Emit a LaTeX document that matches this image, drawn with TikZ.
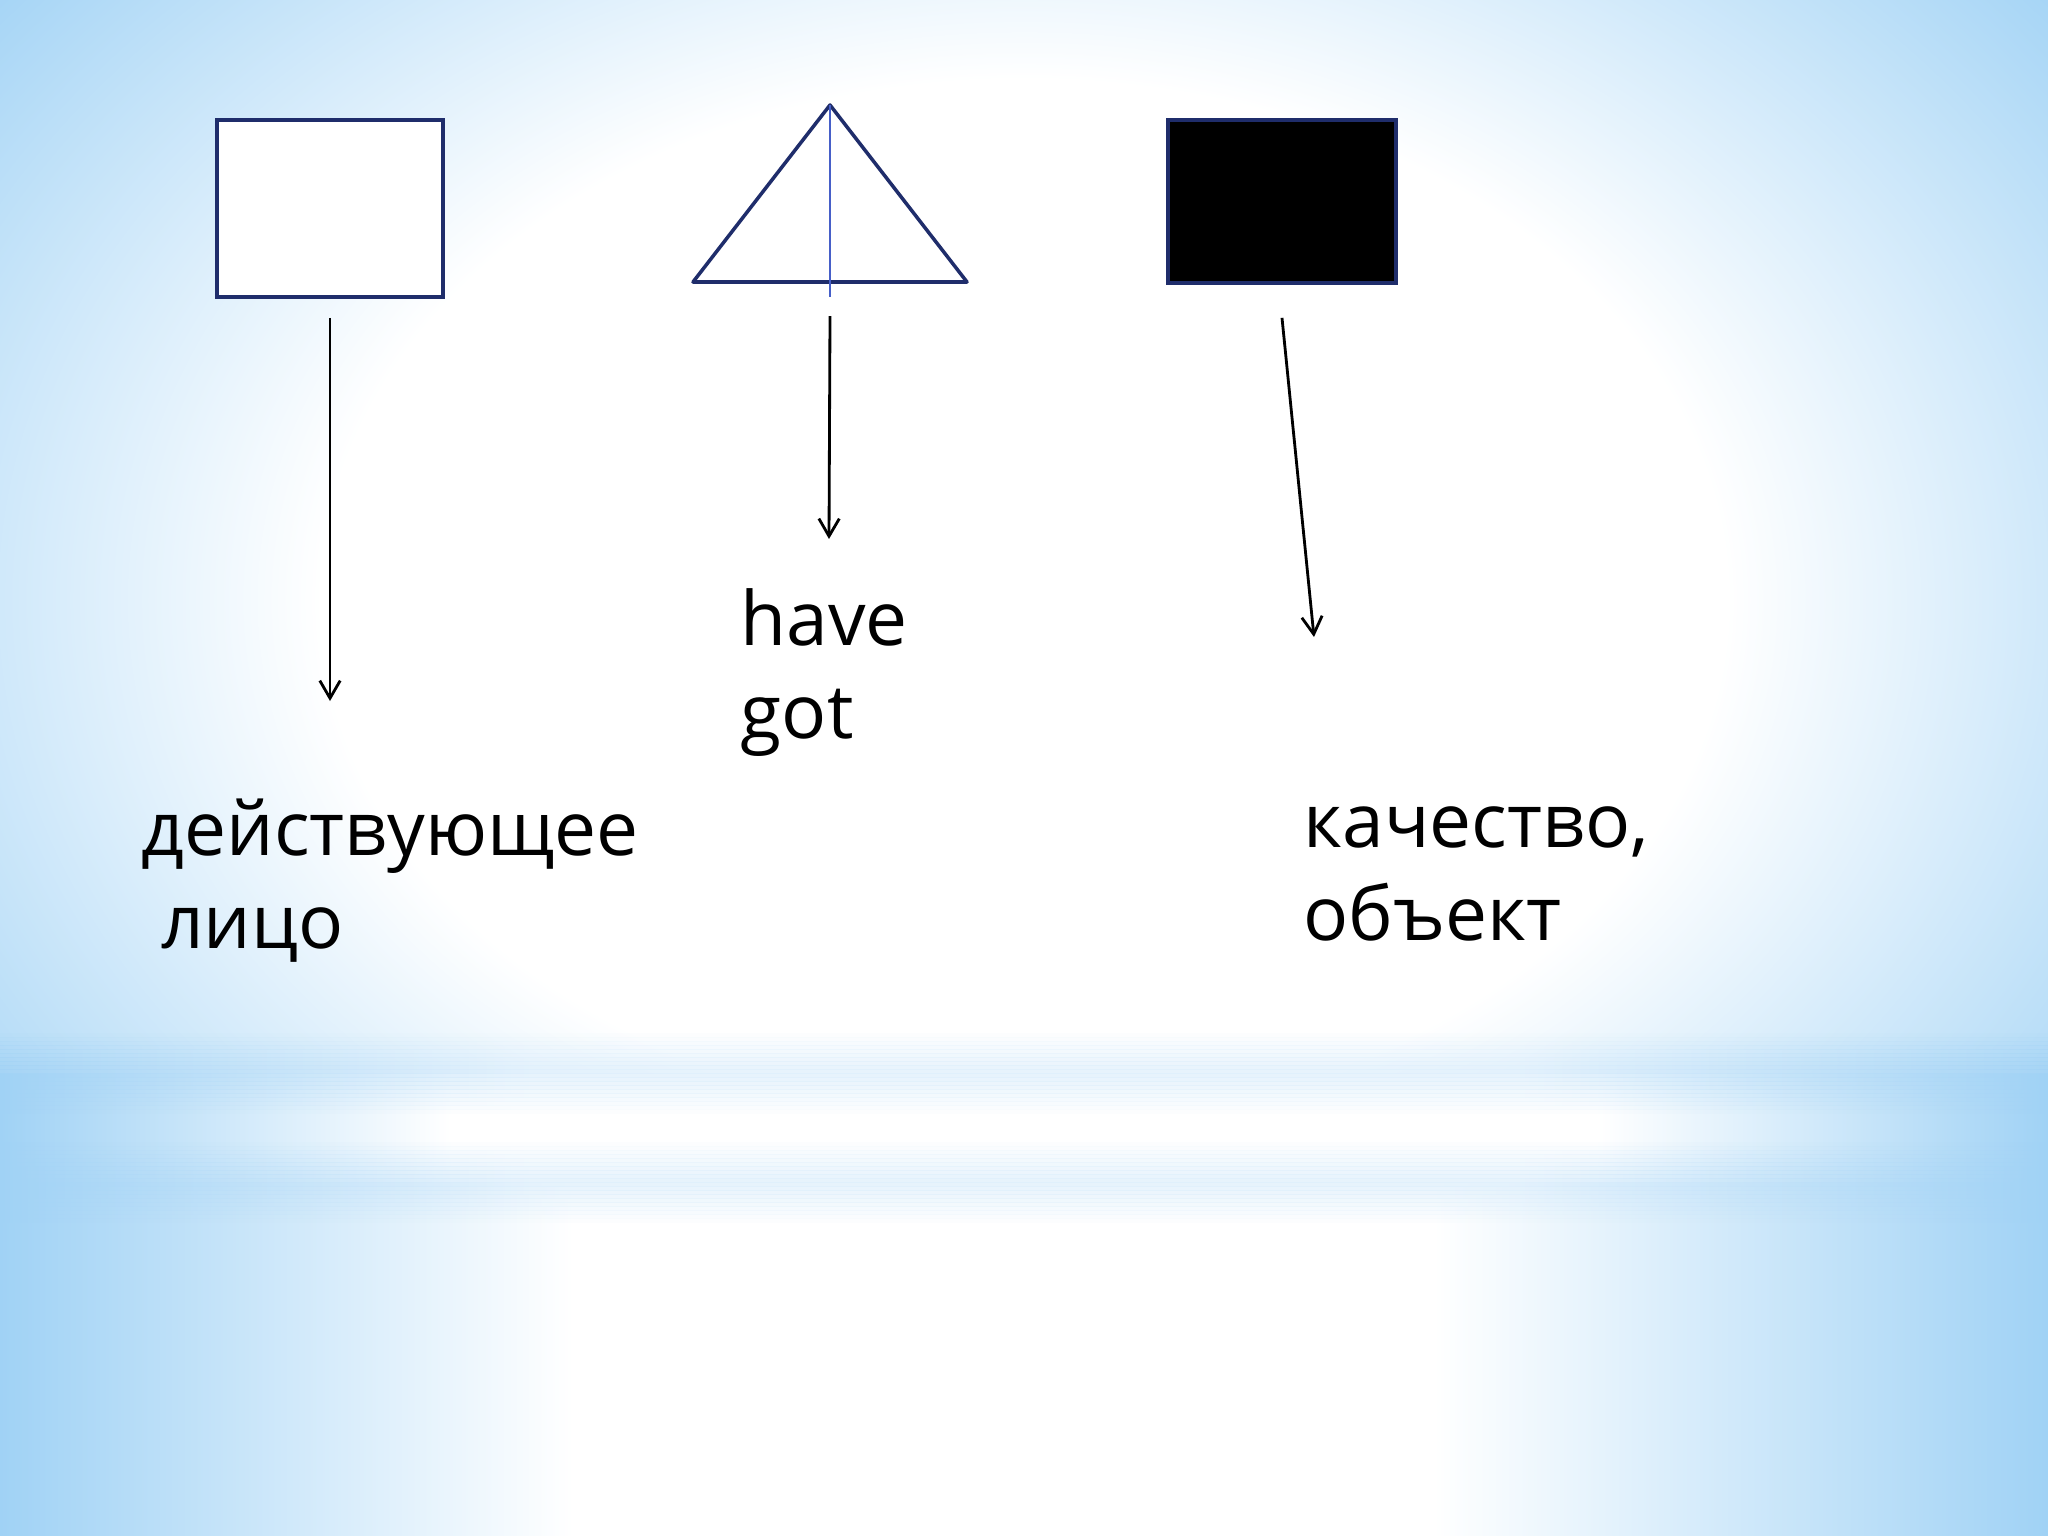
\documentclass[tikz,border=0pt]{standalone}
\usepackage{fontspec}
\setmainfont{Open Sans}
\usetikzlibrary{arrows.meta}
\definecolor{bgblue}{RGB}{160,210,245}
\definecolor{bandc}{RGB}{222,239,252}
\definecolor{navy}{RGB}{31,45,107}
\definecolor{midblue}{RGB}{70,95,200}
\pgfdeclareradialshading{bgrad}{\pgfpoint{0bp}{0bp}}{color(0bp)=(white); color(13bp)=(white); color(25bp)=(bgblue); color(50bp)=(bgblue)}
\pgfdeclarehorizontalshading{bghor}{100bp}{color(0bp)=(bgblue); color(25bp)=(bgblue); color(39bp)=(white); color(60bp)=(white); color(75bp)=(bgblue); color(100bp)=(bgblue)}
\pgfdeclarehorizontalshading{bgmid}{100bp}{color(0bp)=(bgblue); color(25bp)=(bgblue); color(36bp)=(white); color(64bp)=(white); color(75bp)=(bgblue); color(100bp)=(bgblue)}
\pgfdeclarehorizontalshading{bandhor}{100bp}{color(0bp)=(bgblue); color(25bp)=(bgblue); color(38bp)=(bandc); color(62bp)=(bandc); color(75bp)=(bgblue); color(100bp)=(bgblue)}
\tikzset{
  box/.style={draw=navy, line width=1pt, inner sep=0pt, minimum width=2.26cm, minimum height=1.77cm},
  conn/.style={draw=black, line width=0.8pt, -{Straight Barb[length=5pt,width=5.8pt]}},
  label/.style={anchor=north west, inner sep=0pt, align=left, font=\fontsize{21.3pt}{26.5pt}\selectfont, text=black},
}
\begin{document}
\begin{tikzpicture}[x=0.01cm,y=-0.01cm]
\useasboundingbox (0,0) rectangle (2048,1536);
% background
\shade[shading=bghor] (0,0) rectangle (2048,1536);
\shade[shading=bgmid] (0,1073) rectangle (2048,1182);
\begin{scope}
\clip (0,0) rectangle (2048,1073);
\shade[shading=bgrad] (1024,600) ellipse (1350 and 1000);
\end{scope}
\foreach \k in {-10,...,9} {
  \pgfmathsetmacro\op{0.75*(1-abs(\k+0.5)/10.5)}
  \shade[shading=bandhor, opacity=\op] (0,{1073+4*\k}) rectangle (2048,{1077.2+4*\k});
  \shade[shading=bandhor, opacity=\op] (0,{1182+4*\k}) rectangle (2048,{1186.2+4*\k});
}
% shapes
\node[box, fill=white] (r1) at (330,208.5) {};
\coordinate (tA) at (830,105);
\coordinate (tL) at (693,282);
\coordinate (tR) at (967,282);
\coordinate (tM) at (830,297);
\filldraw[fill=white, draw=navy, line width=1pt, line join=round] (tA) -- (tL) -- (tR) -- cycle;
\draw[midblue, line width=0.6pt] (tA) -- (tM);
\node[box, fill=black, minimum width=2.28cm, minimum height=1.63cm] (r3) at (1282,201.5) {};
% ends
\coordinate (e1) at (330,701);
\coordinate (e2) at (829,539);
\coordinate (e3) at (1314,637);
\draw[conn] ([yshift=-0.19cm]r1.south) -- (e1);
\draw[conn] ([yshift=-0.19cm]tM) -- (e2);
\draw[conn] ([yshift=-0.33cm]r3.south) -- (e3);
% texts
\node[label] (t2) at (740,588) {have\\got};
\node[label] (t1) at (141,798) {действующее\\~лицо};
\node[label] (t3) at (1303,806) {качество,\\объект};
\end{tikzpicture}
\end{document}
